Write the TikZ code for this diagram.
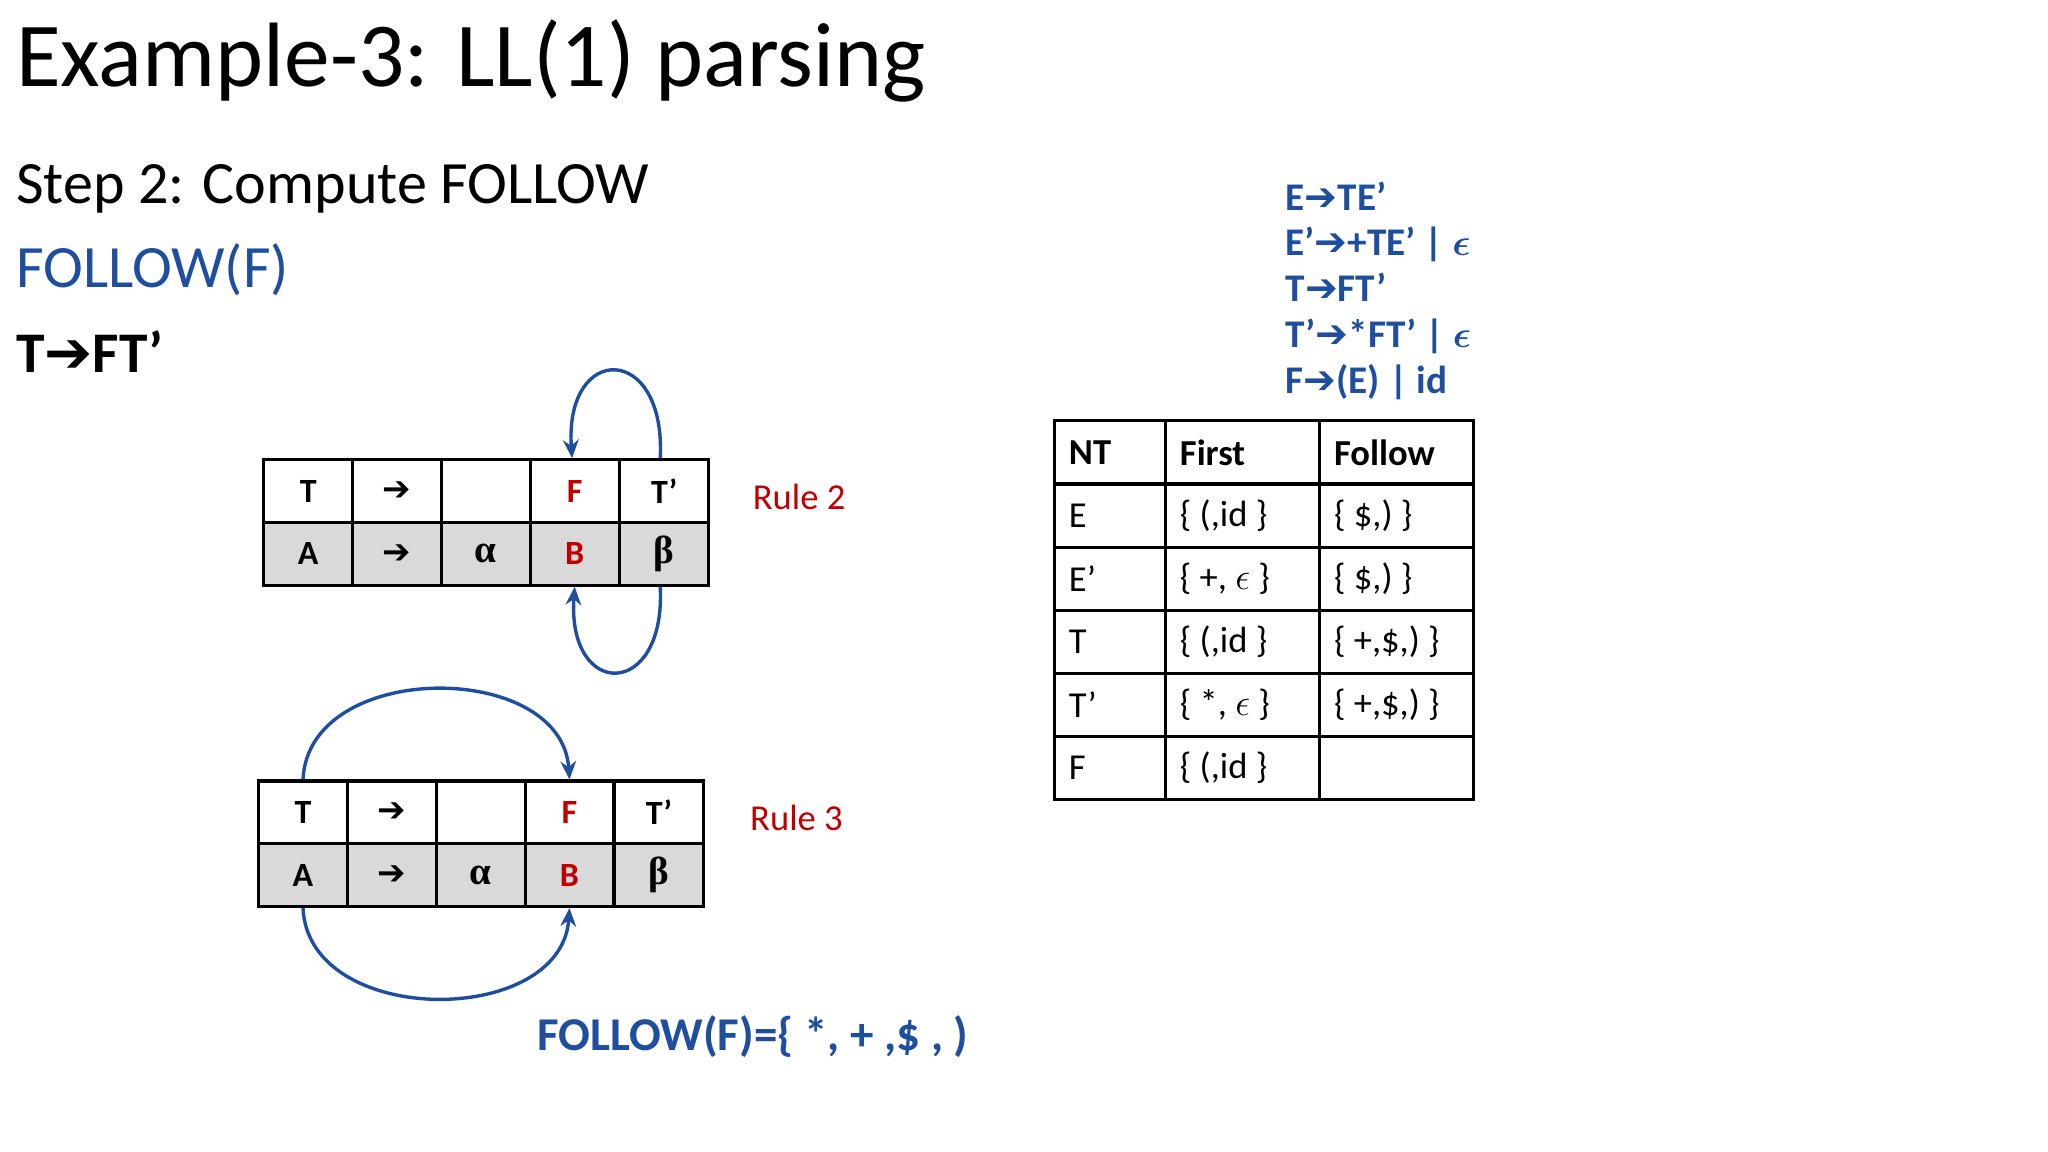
\documentclass[tikz,border=0pt]{standalone}
\usepackage{amsmath,amssymb}
\usepackage{fontspec}
\setmainfont{Carlito}
\newfontfamily\dejavu{DejaVu Sans}
\newfontfamily\lserif{Liberation Serif}
\usetikzlibrary{arrows.meta}
\definecolor{myblue}{RGB}{30,78,160}
\definecolor{myred}{RGB}{192,0,0}
\definecolor{cellgray}{RGB}{217,217,217}
\newcommand{\arr}{{\dejavu\bfseries ➔}}
\tikzset{
  cell/.style={draw=black, line width=1.2pt, minimum width=34pt, minimum height=24pt, inner sep=0pt, font=\fontsize{13}{15}\selectfont\bfseries},
  graycell/.style={cell, fill=cellgray},
  tcell/.style={draw=black, line width=1.2pt, inner sep=0pt, minimum height=24.25pt},
  ttext/.style={anchor=west, inner sep=0pt, font=\fontsize{14}{16}\selectfont},
  loop/.style={myblue, line width=1.3pt, -{Stealth[length=7pt,width=6pt]}},
  lbl/.style={anchor=base west, inner sep=0pt}
}
\begin{document}
\begin{tikzpicture}[x=0.5pt,y=-0.5pt]
\useasboundingbox (0,0) rectangle (1568,882);
% titles
\node[lbl, font=\fontsize{35}{40}\selectfont] (title) at (12,66) {Example-3: LL(1) parsing};
\node[lbl, font=\fontsize{23}{27}\selectfont] (step) at (12,156) {Step 2: Compute FOLLOW};
\node[lbl, font=\fontsize{23}{27}\selectfont, myblue] (ff) at (12,220) {FOLLOW(F)};
\node[lbl, font=\fontsize{22}{26}\selectfont\bfseries] (prod) at (12,285) {T\arr FT’};
% grammar
\begin{scope}[every node/.style={lbl, font=\fontsize{15}{18}\selectfont\bfseries, text=myblue}]
\node (g1) at (984,161) {E\arr TE’};
\node (g2) at (984,196) {E’\arr +TE’ | $\boldsymbol\epsilon$};
\node (g3) at (984,231) {T\arr FT’};
\node (g4) at (984,266) {T’\arr *FT’ | $\boldsymbol\epsilon$};
\node (g5) at (984,301) {F\arr (E) | id};
\end{scope}
% rule tables
\foreach \name/\x/\y in {p/202/352, q/198/598}{
  \node[cell] (\name11) at (\x+34,\y+24) {T};
  \node[cell] (\name12) at (\x+102,\y+24) {\arr};
  \node[cell] (\name13) at (\x+170,\y+24) {};
  \node[cell, text=myred] (\name14) at (\x+238,\y+24) {F};
  \node[cell] (\name15) at (\x+306.5,\y+24) {T’};
  \node[graycell] (\name21) at (\x+34,\y+72) {A};
  \node[graycell] (\name22) at (\x+102,\y+72) {\arr};
  \node[graycell] (\name23) at (\x+170,\y+72) {\lserif\fontsize{15}{15}\selectfont α};
  \node[graycell, text=myred] (\name24) at (\x+238,\y+72) {B};
  \node[graycell] (\name25) at (\x+306.5,\y+72) {\lserif\fontsize{15}{15}\selectfont\bfseries β};
}
\node[lbl, font=\fontsize{14}{16}\selectfont, text=myred] (r2) at (576,390) {Rule 2};
\node[lbl, font=\fontsize{14}{16}\selectfont, text=myred] (r3) at (574,636) {Rule 3};
% loops
\draw[loop] ([xshift=-1.5pt]p15.north) .. controls (510,262) and (432,262) .. ([xshift=-1pt]p14.north);
\draw[loop] ([xshift=-1.5pt]p25.south) .. controls (510,536) and (434,536) .. (p24.south);
\draw[loop] (q11.north) .. controls (236,505) and (430,505) .. (q14.north);
\draw[loop] (q21.south) .. controls (236,787) and (430,787) .. (q24.south);
\node[lbl, font=\fontsize{18}{22}\selectfont\bfseries, text=myblue] (res) at (411,804) {FOLLOW(F)=\{ *, + ,\$ , )};
% first/follow table
\foreach \r/\a/\b/\c in {0/NT/First/Follow, 1/E/{\{ (,id \}}/{\{ \$,) \}}, 2/E’/{\{ +, $\epsilon$ \}}/{\{ \$,) \}}, 3/T/{\{ (,id \}}/{\{ +,\$,) \}}, 4/T’/{\{ *, $\epsilon$ \}}/{\{ +,\$,) \}}, 5/F/{\{ (,id \}}/{}}{
  \pgfmathsetmacro\yt{321+48.33*\r}
  \node[tcell, minimum width=42.5pt, anchor=north west] (n\r) at (806,\yt) {};
  \node[tcell, minimum width=59pt, anchor=north west] (f\r) at (891,\yt) {};
  \node[tcell, minimum width=59pt, anchor=north west] (w\r) at (1009,\yt) {};
  \ifnum\r=0
    \node[ttext, font=\fontsize{14}{16}\selectfont\bfseries] at ([xshift=6pt]n\r.west) {\a};
    \node[ttext, font=\fontsize{14}{16}\selectfont\bfseries] at ([xshift=6pt]f\r.west) {\b};
    \node[ttext, font=\fontsize{14}{16}\selectfont\bfseries] at ([xshift=6pt]w\r.west) {\c};
  \else
    \node[ttext] at ([xshift=6pt]n\r.west) {\a};
    \node[ttext] at ([xshift=6pt]f\r.west) {\b};
    \node[ttext] at ([xshift=6pt]w\r.west) {\c};
  \fi
}
\end{tikzpicture}
\end{document}
